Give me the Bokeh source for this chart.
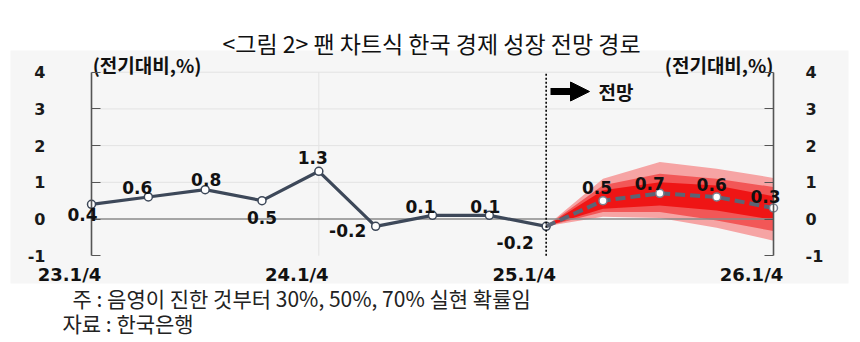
from bokeh.plotting import figure
from bokeh.models import (Range1d, LinearAxis, FixedTicker, BoxAnnotation,
                          Label, LabelSet, ColumnDataSource, Arrow, NormalHead)
from bokeh.embed import file_html
from bokeh.resources import INLINE
from bokeh.core.properties import value

# ---------------- data ----------------
quarter_names = ["23.1/4", "23.2/4", "23.3/4", "23.4/4",
                 "24.1/4", "24.2/4", "24.3/4", "24.4/4",
                 "25.1/4", "25.2/4", "25.3/4", "25.4/4", "26.1/4"]
actual_values = [0.4, 0.6, 0.8, 0.5, 1.3, -0.2, 0.1, 0.1, -0.2]
forecast_values = [0.5, 0.7, 0.6, 0.3]
# fan chart bands (25.1/4 anchor .. 26.1/4)
fan_upper70 = [-0.2, 1.10, 1.55, 1.37, 1.12]
fan_upper50 = [-0.2, 0.92, 1.23, 1.10, 0.87]
fan_upper30 = [-0.2, 0.78, 1.00, 0.91, 0.62]
fan_lower30 = [-0.2, 0.28, 0.37, 0.23, -0.02]
fan_lower50 = [-0.2, 0.19, 0.19, -0.04, -0.33]
fan_lower70 = [-0.2, 0.06, 0.03, -0.24, -0.59]
x_tick_labels = ["23.1/4", "24.1/4", "25.1/4", "26.1/4"]
y_ticks = [-1, 0, 1, 2, 3, 4]
y_tick_labels = ["-1", "0", "1", "2", "3", "4"]
title_text = "<그림 2> 팬 차트식 한국 경제 성장 전망 경로"
unit_text = "(전기대비,%)"
forecast_text = "전망"
note_text = "주 : 음영이 진한 것부터 30%, 50%, 70% 실현 확률임"
source_text = "자료 : 한국은행"

# label offsets (px; +dy = downward)
actual_dx = [-9, -11, 1, 0, -6, -28, -12, -4, -31]
actual_dy = [10, -9, -10, 17, -14, 4, -9, -9, 16]
forecast_dx = [-6, -10, -5, -8]
forecast_dy = [-13, -10, -12, -11]

# ---------------- layout constants (pixels) ----------------
W, H = 860, 342
X0_PX, X_UNIT = 91.0, 56.833      # pixel of first quarter, pixels per quarter
Y0_PX, Y_UNIT = 218.5, 36.7       # pixel of value 0, pixels per 1%p

def xd(px):  # canvas px -> data x
    return (px - X0_PX) / X_UNIT

def yd(py):  # canvas py (from top) -> data y
    return (Y0_PX - py) / Y_UNIT

# ---------------- derived ----------------
n_act = len(actual_values)
act_x = list(range(n_act))
fc_start = n_act - 1
fc_x = list(range(fc_start, fc_start + len(forecast_values) + 1))
fc_y = [actual_values[-1]] + forecast_values
last_x = len(quarter_names) - 1
tick_x = [quarter_names.index(t) for t in x_tick_labels]
y_lo, y_hi = min(y_ticks), max(y_ticks)

p = figure(width=W, height=H, output_backend="svg", toolbar_location=None,
           x_range=Range1d(xd(0), xd(W)), y_range=Range1d(yd(H), yd(0)),
           x_axis_location=None, y_axis_location=None,
           min_border=0)
p.title.visible = False
p.outline_line_color = None
p.background_fill_color = "white"
p.border_fill_color = "white"
p.xgrid.visible = False
p.ygrid.visible = False

# gray panel
p.add_layout(BoxAnnotation(left=xd(10), right=xd(848), top=yd(50), bottom=yd(283),
                           fill_color="#f6f6f6", fill_alpha=1, line_color=None, level="image"))

# horizontal grid lines
gl = [t for t in y_ticks if t > 0]
p.segment(x0=[0] * len(gl), y0=gl, x1=[last_x] * len(gl), y1=gl,
          line_color="#e3e3e3", line_width=1)
# vertical grid lines at labelled ticks between axes
inner = [t for t in tick_x if 0 < t < last_x and t != fc_start]
p.segment(x0=inner, y0=[y_lo] * len(inner), x1=inner, y1=[y_hi] * len(inner),
          line_color="#e3e3e3", line_width=1)

# axes (fixed at first / last quarter)
axis_color = "#555555"
def make_axis(loc, standoff):
    ax = LinearAxis(fixed_location=loc, bounds=(y_lo, y_hi), ticker=FixedTicker(ticks=y_ticks),
                    major_label_overrides={t: l for t, l in zip(y_ticks, y_tick_labels)})
    ax.axis_line_color = axis_color
    ax.axis_line_width = 1.6
    ax.major_tick_line_color = axis_color
    ax.major_tick_line_width = 1.2
    ax.major_tick_in = 9
    ax.major_tick_out = 0
    ax.minor_tick_line_color = None
    ax.major_label_standoff = standoff
    ax.major_label_text_font = "DejaVu Sans"
    ax.major_label_text_font_style = "bold"
    ax.major_label_text_font_size = "16px"
    ax.major_label_text_color = "#1a1a1a"
    return ax
p.add_layout(make_axis(0, 46), "left")
p.add_layout(make_axis(last_x, 32), "right")

# fan bands
light, medium, dark = "#f6a4a4", "#f25757", "#ef1515"
p.varea(x=fc_x, y1=fan_lower70, y2=fan_upper70, fill_color=light)
p.varea(x=fc_x, y1=fan_lower50, y2=fan_upper50, fill_color=medium)
p.varea(x=fc_x, y1=fan_lower30, y2=fan_upper30, fill_color=dark)

# zero line (drawn over the bands)
p.segment(x0=[0], y0=[0], x1=[last_x], y1=[0], line_color="#8a8a8a", line_width=1.5)

# actual line
line_col = "#3d4859"
p.line(act_x, actual_values, line_color=line_col, line_width=3.2)
p.scatter(act_x, actual_values, size=8, fill_color="white", line_color=line_col, line_width=1.5)

# forecast dashed line
fc_col = "#5c6474"
p.line(fc_x, fc_y, line_color=fc_col, line_width=4, line_dash="10 5")
p.scatter(fc_x[1:], forecast_values, size=8, fill_color="white", line_color="#7a8190", line_width=1.5)

# dotted divider at forecast start
p.segment(x0=[fc_start], y0=[y_lo], x1=[fc_start], y1=[y_hi], line_color="black",
          line_width=1.6, line_dash="2 2")

# data labels
lab_src = ColumnDataSource(dict(
    x=act_x + fc_x[1:],
    y=actual_values + forecast_values,
    text=[f"{v:.1f}" for v in actual_values + forecast_values],
    dx=actual_dx + forecast_dx,
    dy=[-d for d in actual_dy + forecast_dy],
))
p.add_layout(LabelSet(x="x", y="y", text="text", x_offset="dx", y_offset="dy", source=lab_src,
                      text_font=value("DejaVu Sans"), text_font_style="bold",
                      text_font_size="17px", text_color="#111111",
                      text_align="center", text_baseline="middle"))

# x tick labels
xt_src = ColumnDataSource(dict(x=tick_x, y=[y_lo] * len(tick_x), text=x_tick_labels))
p.add_layout(LabelSet(x="x", y="y", text="text", x_offset=-22, y_offset=-19, source=xt_src,
                      text_font=value("DejaVu Sans"), text_font_style="bold",
                      text_font_size="18px", text_color="#111111",
                      text_align="center", text_baseline="middle"))

# unit labels
for ux, ua in ((0.02, "left"), (last_x, "right")):
    p.text(x=[ux], y=[yd(64)], text=[unit_text], text_font=value("Noto Sans CJK KR"),
           text_font_style="bold", text_font_size="19px", text_color="#111111",
           text_align=ua, text_baseline="middle")

# forecast arrow
ay = yd(91)
p.add_layout(Arrow(end=NormalHead(size=19, fill_color="black", line_color="black"),
                   x_start=xd(550), y_start=ay, x_end=xd(589), y_end=ay,
                   line_width=7, line_color="black"))
p.text(x=[xd(598)], y=[ay], text=[forecast_text], text_font=value("Noto Sans CJK KR"),
       text_font_style="bold", text_font_size="19px", text_color="#111111",
       text_align="left", text_baseline="middle")

# title and notes
p.add_layout(Label(x=xd(431), y=yd(42), text=title_text, text_font="Noto Sans CJK KR",
                   text_font_size="23px", text_color="#111111",
                   text_align="center", text_baseline="middle"))
p.add_layout(Label(x=xd(72), y=yd(297), text=note_text, text_font="Noto Sans CJK KR",
                   text_font_size="21px", text_color="#222222",
                   text_align="left", text_baseline="middle"))
p.add_layout(Label(x=xd(62), y=yd(322), text=source_text, text_font="Noto Sans CJK KR",
                   text_font_size="21px", text_color="#222222",
                   text_align="left", text_baseline="middle"))

open("out.html", "w").write(file_html(p, INLINE))
